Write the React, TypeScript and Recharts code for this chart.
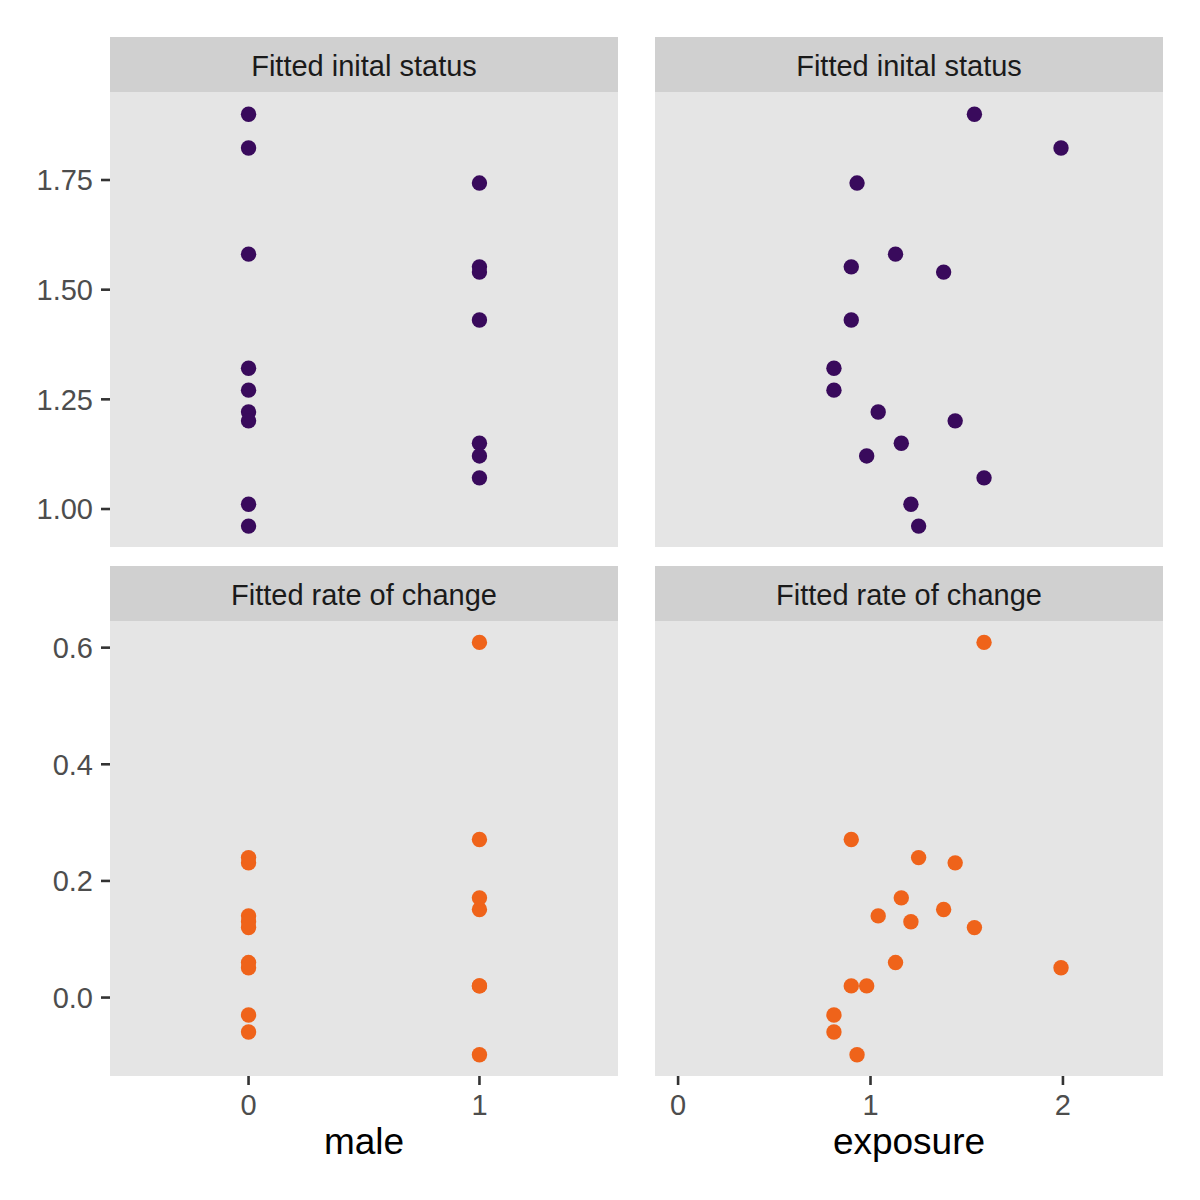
import { CartesianGrid, Scatter, ScatterChart, XAxis, YAxis } from "recharts";

// one entry per subject
const male = [0, 0, 1, 0, 1, 1, 1, 0, 0, 0, 0, 1, 1, 1, 0, 0];
const exposure = [1.54, 1.99, 0.93, 1.13, 0.9, 1.38, 0.9, 0.81, 0.81, 1.04, 1.44, 1.16, 0.98, 1.59, 1.21, 1.25];
const initStatus = [1.9, 1.823, 1.743, 1.581, 1.552, 1.54, 1.431, 1.321, 1.271, 1.221, 1.201, 1.15, 1.121, 1.071, 1.011, 0.961];
const rateChange = [0.12, 0.051, -0.098, 0.06, 0.271, 0.151, 0.02, -0.03, -0.059, 0.14, 0.231, 0.171, 0.02, 0.609, 0.13, 0.24];

const maleTicks = [0, 1];
const exposureTicks = [0, 1, 2];
const initTicks = [1.0, 1.25, 1.5, 1.75];
const rateTicks = [0, 0.2, 0.4, 0.6];

const stripLabels = ["Fitted inital status", "Fitted rate of change"];
const xTitles = ["male", "exposure"];

const FONT = '"Liberation Sans", Arial, Helvetica, sans-serif';
const PURPLE = "#390A5C";
const ORANGE = "#EF631A";

const rows = male.map((m, i) => ({
  male: m,
  exposure: exposure[i],
  init: initStatus[i],
  rate: rateChange[i],
}));

interface PanelProps {
  left: number;
  top: number;
  xKey: "male" | "exposure";
  yKey: "init" | "rate";
  xDomain: [number, number];
  yDomain: [number, number];
  xTicks: number[];
  yTicks: number[];
  yFormat: (v: number) => string;
  showX: boolean;
  showY: boolean;
  color: string;
}

const PANEL_W = 508;
const PANEL_H = 455;
const Y_AXIS_W = 110;
const X_AXIS_H = 60;

const tickStyle = { fill: "#4D4D4D", fontSize: 29, fontFamily: FONT };
const tickLineStyle = { stroke: "#333333", strokeWidth: 2.6 };

function Panel(p: PanelProps) {
  const width = PANEL_W + (p.showY ? Y_AXIS_W : 0);
  const height = PANEL_H + (p.showX ? X_AXIS_H : 0);
  return (
    <div style={{ position: "absolute", left: p.left - (p.showY ? Y_AXIS_W : 0), top: p.top }}>
      <ScatterChart width={width} height={height} margin={{ top: 0, right: 0, bottom: 0, left: 0 }}>
        <CartesianGrid horizontal={false} vertical={false} fill="#E5E5E5" stroke="none" />
        <XAxis
          type="number"
          dataKey={p.xKey}
          domain={p.xDomain}
          ticks={p.xTicks}
          allowDataOverflow
          hide={!p.showX}
          height={X_AXIS_H}
          axisLine={false}
          tickSize={9}
          tickMargin={9}
          tick={tickStyle}
          tickLine={tickLineStyle}
        />
        <YAxis
          type="number"
          dataKey={p.yKey}
          domain={p.yDomain}
          ticks={p.yTicks}
          tickFormatter={p.yFormat}
          allowDataOverflow
          hide={!p.showY}
          width={Y_AXIS_W}
          axisLine={false}
          tickSize={9}
          tickMargin={8}
          tick={tickStyle}
          tickLine={tickLineStyle}
        />
        <Scatter
          data={rows}
          isAnimationActive={false}
          shape={(s: { cx?: number; cy?: number }) => <circle cx={s.cx} cy={s.cy} r={7.7} fill={p.color} />}
        />
      </ScatterChart>
    </div>
  );
}

function Strip({ left, top, label }: { left: number; top: number; label: string }) {
  return (
    <div
      style={{
        position: "absolute",
        left,
        top,
        width: PANEL_W,
        height: 55,
        background: "#D0D0D0",
        color: "#1A1A1A",
        fontFamily: FONT,
        fontSize: 29,
        lineHeight: "59px",
        textAlign: "center",
      }}
    >
      {label}
    </div>
  );
}

export default function App() {
  const maleDomain: [number, number] = [-0.6, 1.6];
  const expDomain: [number, number] = [-0.12, 2.52];
  const initDomain: [number, number] = [0.9134, 1.9506];
  const rateDomain: [number, number] = [-0.1345, 0.6457];
  const f2 = (v: number) => v.toFixed(2);
  const f1 = (v: number) => v.toFixed(1);
  const lefts = [110, 655];

  return (
    <div style={{ position: "absolute", left: 0, top: 0, width: 1200, height: 1200, background: "#FFFFFF" }}>
      {lefts.map((l) => (
        <Strip key={`s1-${l}`} left={l} top={37} label={stripLabels[0]} />
      ))}
      {lefts.map((l) => (
        <Strip key={`s2-${l}`} left={l} top={566} label={stripLabels[1]} />
      ))}
      <Panel left={110} top={92} xKey="male" yKey="init" xDomain={maleDomain} yDomain={initDomain}
        xTicks={maleTicks} yTicks={initTicks} yFormat={f2} showX={false} showY color={PURPLE} />
      <Panel left={655} top={92} xKey="exposure" yKey="init" xDomain={expDomain} yDomain={initDomain}
        xTicks={exposureTicks} yTicks={initTicks} yFormat={f2} showX={false} showY={false} color={PURPLE} />
      <Panel left={110} top={621} xKey="male" yKey="rate" xDomain={maleDomain} yDomain={rateDomain}
        xTicks={maleTicks} yTicks={rateTicks} yFormat={f1} showX showY color={ORANGE} />
      <Panel left={655} top={621} xKey="exposure" yKey="rate" xDomain={expDomain} yDomain={rateDomain}
        xTicks={exposureTicks} yTicks={rateTicks} yFormat={f1} showX showY={false} color={ORANGE} />
      {xTitles.map((t, i) => (
        <div
          key={t}
          style={{
            position: "absolute",
            left: lefts[i],
            top: 1121,
            width: PANEL_W,
            textAlign: "center",
            fontFamily: FONT,
            fontSize: 37,
            lineHeight: "42px",
            color: "#000000",
          }}
        >
          {t}
        </div>
      ))}
    </div>
  );
}
